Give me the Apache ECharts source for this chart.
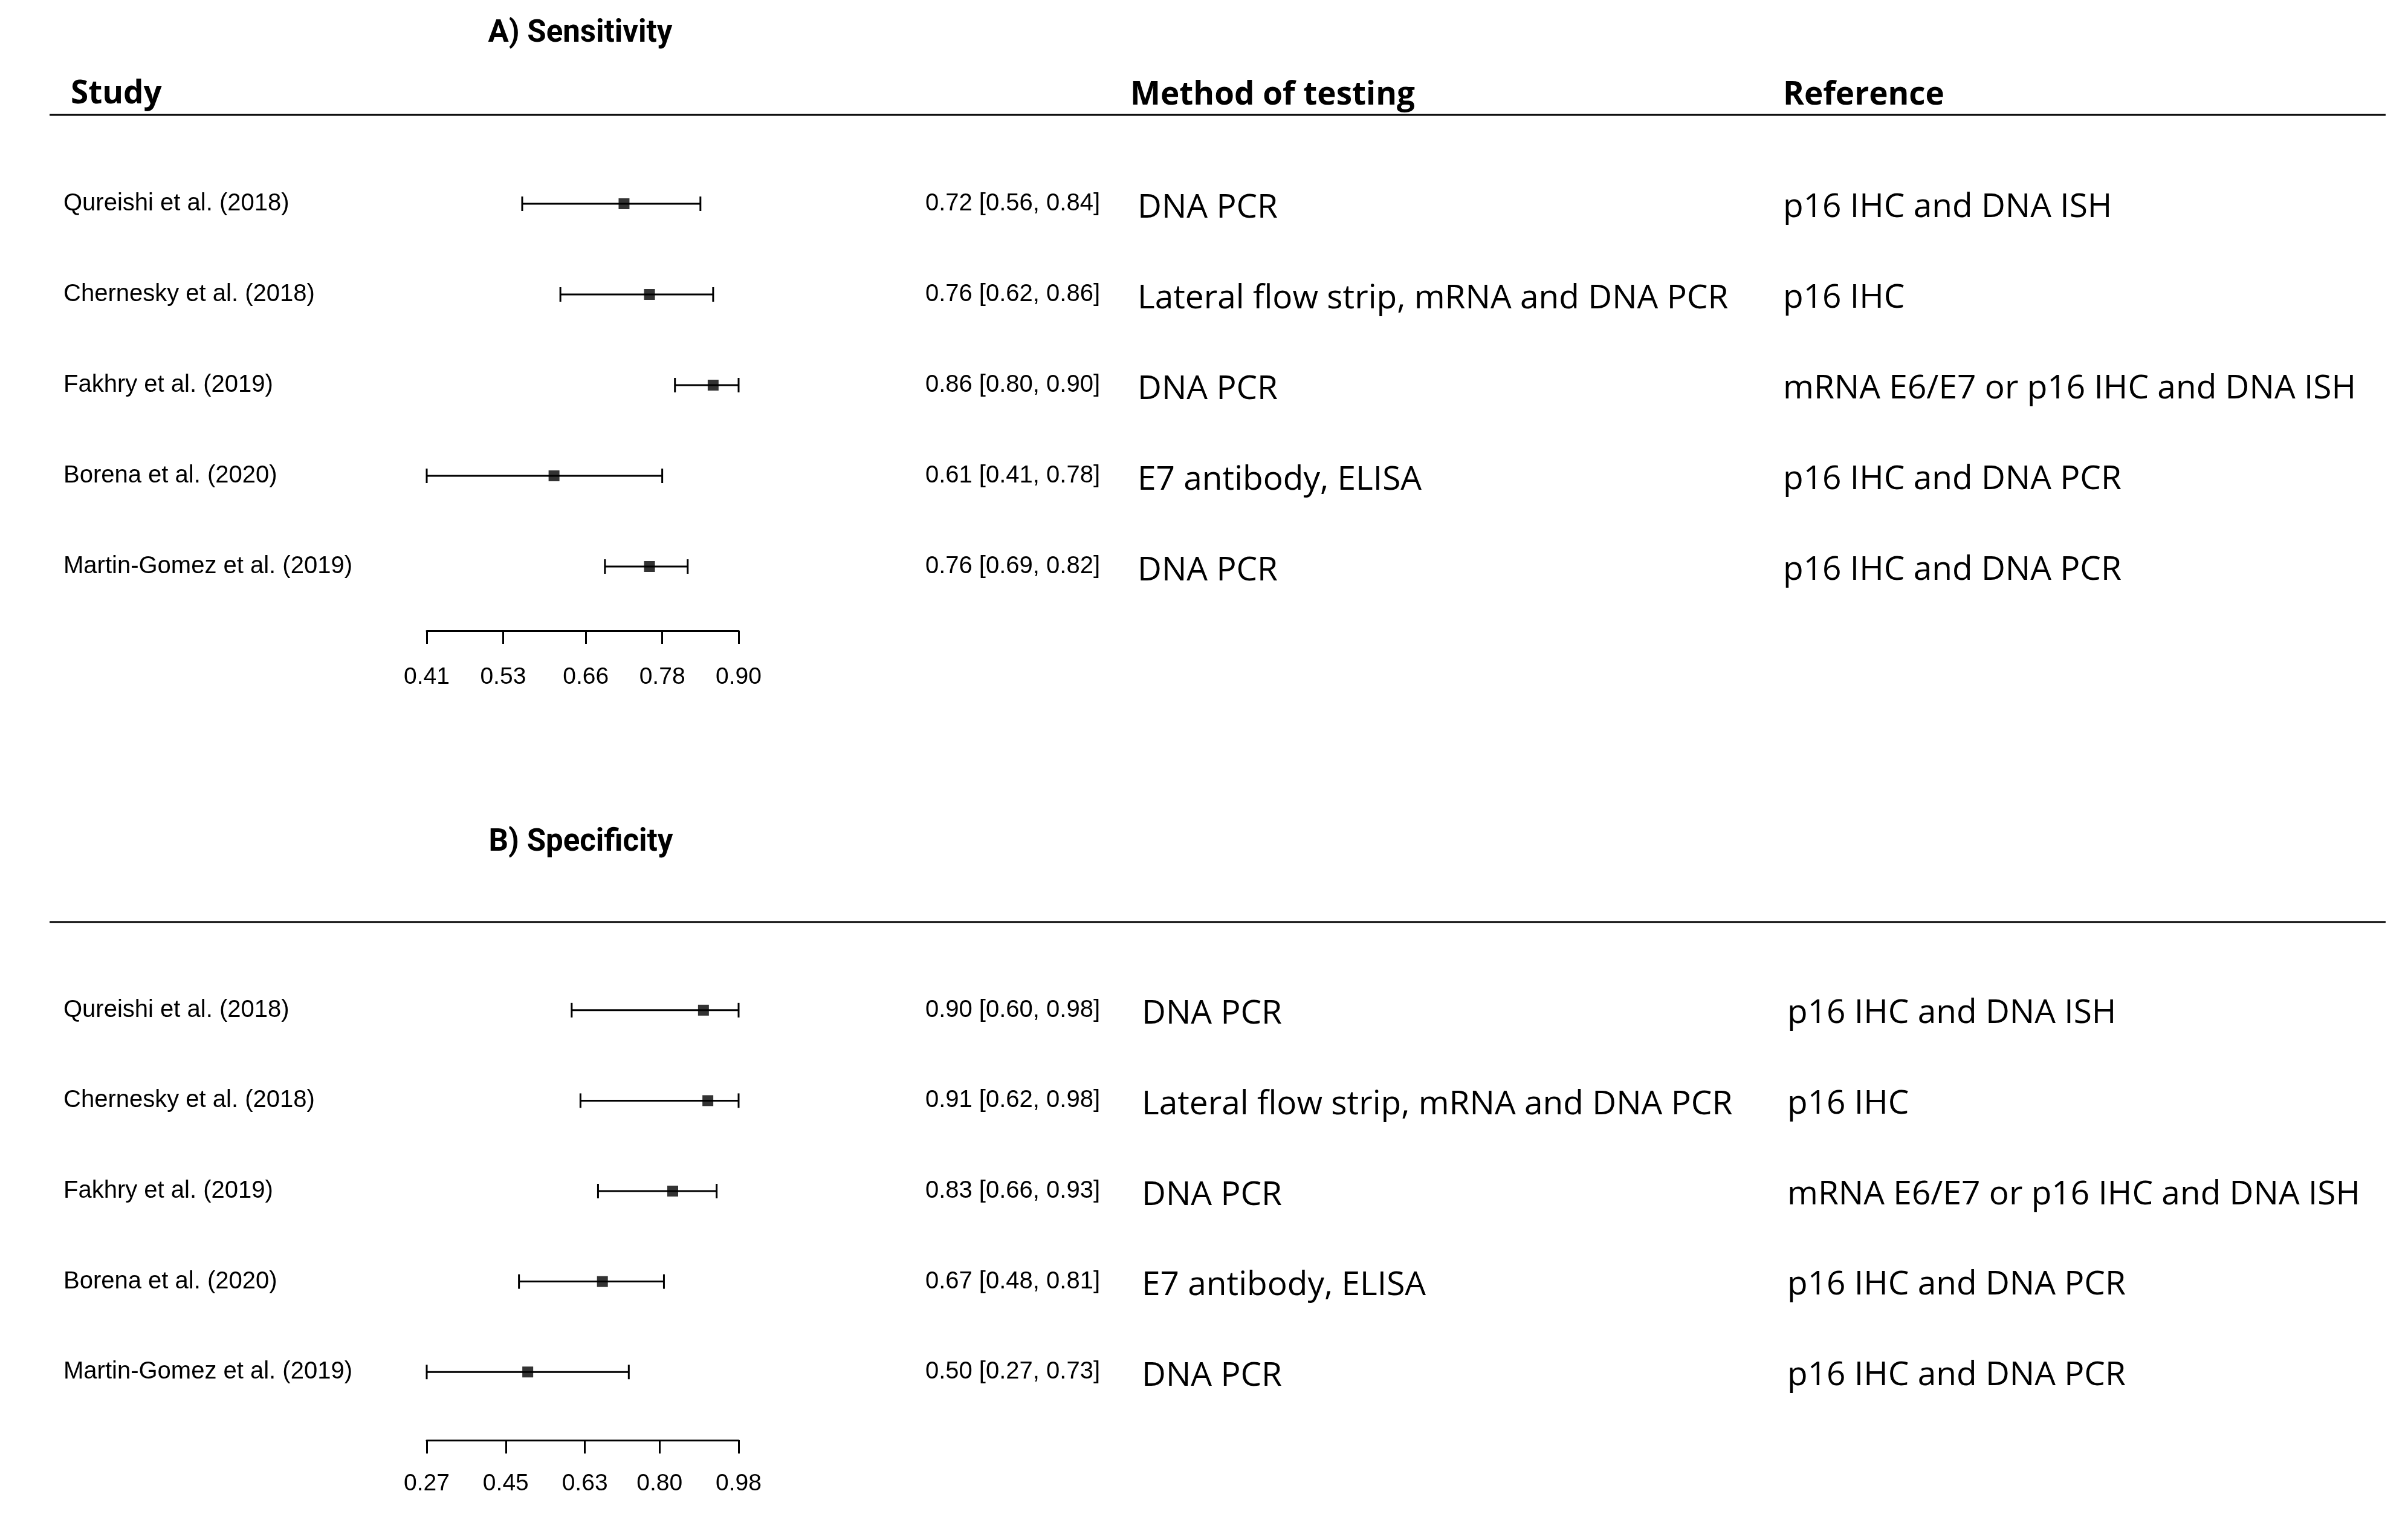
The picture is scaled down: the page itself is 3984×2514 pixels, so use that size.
<!DOCTYPE html>
<html><head><meta charset="utf-8">
<script src="https://cdn.jsdelivr.net/npm/echarts@6/dist/echarts.min.js"></script>
<style>html,body{margin:0;padding:0;background:#fff}#c{width:3984px;height:2514px}</style>
</head><body><div id="c"></div>
<script>
const studies = ['Qureishi et al. (2018)','Chernesky et al. (2018)','Fakhry et al. (2019)','Borena et al. (2020)','Martin-Gomez et al. (2019)'];
const methods = ['DNA PCR','Lateral flow strip, mRNA and DNA PCR','DNA PCR','E7 antibody, ELISA','DNA PCR'];
const references = ['p16 IHC and DNA ISH','p16 IHC','mRNA E6/E7 or p16 IHC and DNA ISH','p16 IHC and DNA PCR','p16 IHC and DNA PCR'];
const sensEst = [0.72,0.76,0.86,0.61,0.76];
const sensLo  = [0.56,0.62,0.80,0.41,0.69];
const sensHi  = [0.84,0.86,0.90,0.78,0.82];
const specEst = [0.90,0.91,0.83,0.67,0.50];
const specLo  = [0.60,0.62,0.66,0.48,0.27];
const specHi  = [0.98,0.98,0.93,0.81,0.73];
const sensTicks = [0.41,0.53,0.66,0.78,0.90];
const specTicks = [0.27,0.45,0.63,0.80,0.98];

const chart = echarts.init(document.getElementById('c'), null, {renderer:'canvas'});
const GL = 706, GW = 516, GR = GL + GW;
const RFONT = 'Liberation Sans, Arial, sans-serif';
const TFONT = 'Open Sans, sans-serif';

function yAxes(gi, est, lo, hi, shift) {
  const base = {type:'category', gridIndex:gi, inverse:true, data:studies,
    axisLine:{show:false}, axisTick:{show:false}, splitLine:{show:false}};
  return [
    Object.assign({}, base, {position:'left',
      axisLabel:{interval:0, align:'left', margin:GL-105, fontFamily:RFONT, fontSize:40, color:'#000'}}),
    Object.assign({}, base, {position:'right',
      axisLabel:{interval:0, align:'right', margin:1820-GR, fontFamily:RFONT, fontSize:40, color:'#000',
        formatter:(v,i)=>est[i].toFixed(2)+' ['+lo[i].toFixed(2)+', '+hi[i].toFixed(2)+']'}}),
    Object.assign({}, base, {position:'right',
      axisLabel:{interval:0, align:'left', verticalAlign:'top', lineHeight:14, margin:1882+shift-GR,
        fontFamily:TFONT, fontSize:55, color:'#000', formatter:(v,i)=>methods[i]}}),
    Object.assign({}, base, {position:'right',
      axisLabel:{interval:0, align:'left', verticalAlign:'top', lineHeight:12, margin:2950+shift-GR,
        fontFamily:TFONT, fontSize:55, color:'#000', formatter:(v,i)=>references[i]}})
  ];
}
function xAxis(gi, ticks, offset, margin) {
  return {type:'value', gridIndex:gi, min:ticks[0], max:ticks[ticks.length-1], position:'bottom', offset:offset,
    axisLine:{show:true, lineStyle:{color:'#000', width:3}},
    axisTick:{show:true, length:22, customValues:ticks, lineStyle:{color:'#000', width:3}},
    axisLabel:{customValues:ticks, formatter:v=>v.toFixed(2), margin:margin, fontFamily:RFONT, fontSize:39, color:'#000'},
    splitLine:{show:false}};
}
function bars(xi, yi, lo, hi) {
  return {type:'custom', xAxisIndex:xi, yAxisIndex:yi, silent:true, clip:false,
    data: lo.map((l,i)=>[l, hi[i], i]),
    encode:{x:[0,1], y:2},
    renderItem:(params, api)=>{
      const p0 = api.coord([api.value(0), api.value(2)]);
      const p1 = api.coord([api.value(1), api.value(2)]);
      const h = 12, st = {stroke:'#000', lineWidth:3};
      return {type:'group', children:[
        {type:'line', shape:{x1:p0[0],y1:p0[1],x2:p1[0],y2:p1[1]}, style:st},
        {type:'line', shape:{x1:p0[0],y1:p0[1]-h,x2:p0[0],y2:p0[1]+h}, style:st},
        {type:'line', shape:{x1:p1[0],y1:p1[1]-h,x2:p1[0],y2:p1[1]+h}, style:st}
      ]};
    }};
}
function points(xi, yi, est) {
  return {type:'scatter', xAxisIndex:xi, yAxisIndex:yi, silent:true, symbol:'rect', symbolSize:18,
    itemStyle:{color:'#000'}, data: est.map((e,i)=>[e,i]), z:5};
}
function txt(x, y, text, font, align) {
  return {type:'text', x:x, y:y, silent:true,
    style:{text:text, font:font, fill:'#000', align:align||'left', textAlign:align||'left', verticalAlign:'middle', textVerticalAlign:'middle'}};
}

const option = {
  animation:false,
  backgroundColor:'#fff',
  grid:[
    {left:GL, width:GW, top:262, height:750},
    {left:GL, width:GW, top:1596, height:748}
  ],
  xAxis:[xAxis(0, sensTicks, 31, 58), xAxis(1, specTicks, 38, 53)],
  yAxis:[].concat(yAxes(0, sensEst, sensLo, sensHi, 0), yAxes(1, specEst, specLo, specHi, 7)),
  series:[
    bars(0, 0, sensLo, sensHi), points(0, 0, sensEst),
    bars(1, 4, specLo, specHi), points(1, 4, specEst)
  ],
  graphic:[
    txt(960, 56, 'A) Sensitivity', 'bold 51px Roboto', 'center'),
    txt(117, 156, 'Study', 'bold 53px "Open Sans"'),
    txt(1870, 158, 'Method of testing', 'bold 53px "Open Sans"'),
    txt(2950, 158, 'Reference', 'bold 53px "Open Sans"'),
    {type:'line', silent:true, shape:{x1:82,y1:190,x2:3947,y2:190}, style:{stroke:'#000', lineWidth:3}},
    txt(961, 1394, 'B) Specificity', 'bold 51px Roboto', 'center'),
    {type:'line', silent:true, shape:{x1:82,y1:1525,x2:3947,y2:1525}, style:{stroke:'#000', lineWidth:3}}
  ]
};
chart.setOption(option);
</script></body></html>
